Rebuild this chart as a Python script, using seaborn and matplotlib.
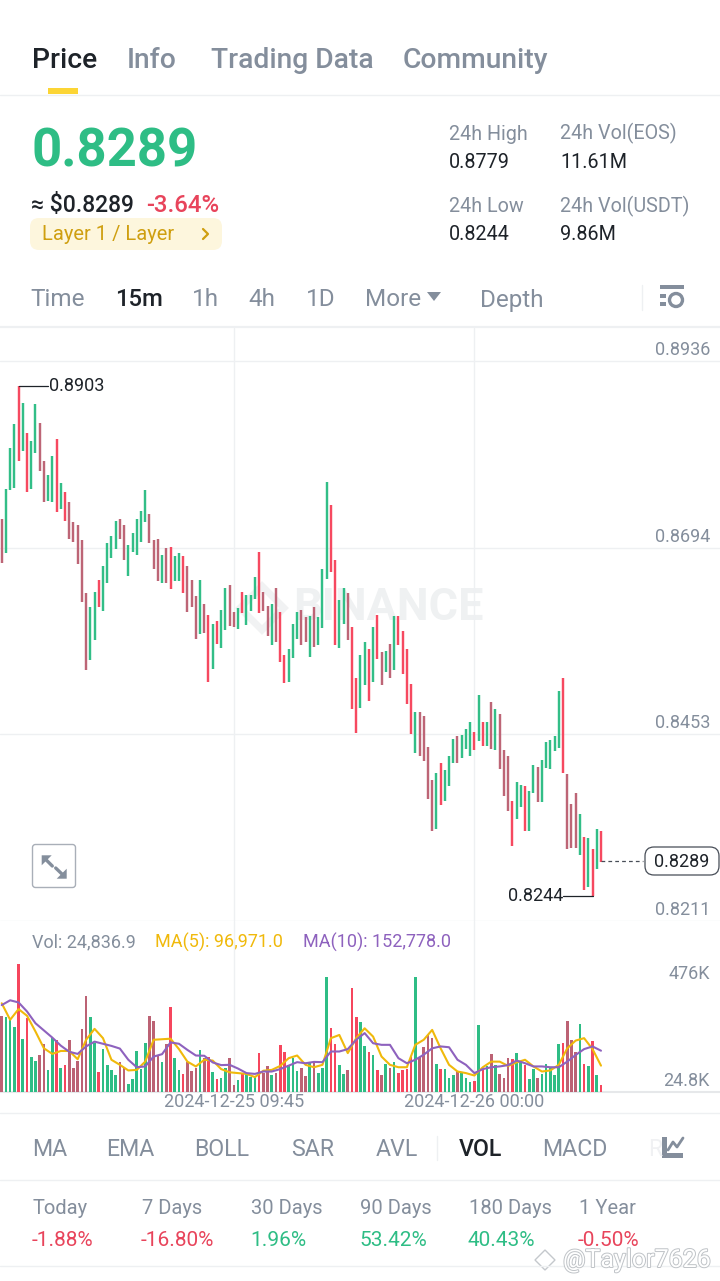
import numpy as np
import pandas as pd
import seaborn as sns
import matplotlib.pyplot as plt
from matplotlib.patches import FancyBboxPatch, Polygon, Rectangle, Circle
import matplotlib.patheffects as pe

# candle highs and lows, in units of 0.0001
price_highs = [
    8732, 8770, 8824, 8854, 8903, 8882, 8843, 8833, 8880, 8856,
    8806, 8789, 8813, 8835, 8778, 8766, 8753, 8728, 8724, 8704,
    8636, 8618, 8637, 8652, 8671, 8700, 8710, 8729, 8732, 8724,
    8698, 8713, 8731, 8742, 8769, 8738, 8704, 8706, 8685, 8694,
    8695, 8684, 8687, 8684, 8670, 8653, 8632, 8653, 8621, 8607,
    8595, 8599, 8613, 8642, 8646, 8611, 8616, 8637, 8633, 8633,
    8656, 8689, 8637, 8619, 8621, 8642, 8611, 8555, 8563, 8596,
    8611, 8614, 8604, 8606, 8617, 8604, 8667, 8779, 8750, 8679,
    8626, 8642, 8635, 8592, 8526, 8556, 8572, 8563, 8592, 8607,
    8559, 8560, 8569, 8606, 8606, 8586, 8563, 8518, 8481, 8481,
    8477, 8436, 8393, 8403, 8415, 8406, 8425, 8447, 8451, 8452,
    8459, 8469, 8456, 8504, 8469, 8469, 8495, 8485, 8479, 8432,
    8425, 8367, 8391, 8387, 8386, 8379, 8413, 8410, 8419, 8443,
    8445, 8450, 8509, 8526, 8401, 8363, 8377, 8349, 8320, 8318,
    8304, 8330, 8327]
price_lows = [
    8675, 8688, 8769, 8771, 8807, 8819, 8766, 8770, 8817, 8793,
    8753, 8755, 8753, 8741, 8744, 8729, 8705, 8702, 8673, 8624,
    8536, 8549, 8575, 8618, 8612, 8649, 8681, 8692, 8705, 8679,
    8658, 8689, 8685, 8702, 8728, 8701, 8667, 8651, 8648, 8649,
    8641, 8651, 8651, 8635, 8611, 8617, 8576, 8582, 8584, 8521,
    8537, 8569, 8564, 8588, 8593, 8591, 8589, 8610, 8594, 8612,
    8628, 8610, 8612, 8580, 8568, 8572, 8546, 8519, 8521, 8552,
    8576, 8568, 8572, 8553, 8566, 8568, 8590, 8654, 8663, 8568,
    8565, 8596, 8575, 8486, 8454, 8487, 8517, 8496, 8520, 8550,
    8516, 8533, 8526, 8536, 8568, 8531, 8492, 8453, 8428, 8425,
    8418, 8369, 8327, 8330, 8361, 8367, 8386, 8415, 8416, 8422,
    8434, 8424, 8432, 8444, 8437, 8437, 8434, 8432, 8408, 8373,
    8353, 8308, 8343, 8358, 8328, 8327, 8377, 8365, 8365, 8409,
    8408, 8431, 8435, 8402, 8304, 8306, 8306, 8296, 8251, 8255,
    8244, 8278, 8287]
# g = up, r = down, m = the muddier down candles
candle_kinds = ("mgggrgrggm" "mggrgrmmmm" "mggrggggmm" "gggggmmmgm" "rggrmmmgmr"
                "grggmmgrgg" "grmmgmrrgg" "gmmgmgggrr" "ggmrrggrgr" "mgmgrrrrgm"
                "mmmgrgggmg" "ggrgrgmgmm" "mrggrggmgg" "gggrmmmgrg" "rgr")
# volumes in thousands
volumes = [
    284, 279, 271, 241, 479, 198, 276, 130, 115, 137,
    179, 81, 200, 194, 89, 101, 195, 90, 116, 236,
    360, 280, 181, 73, 161, 99, 80, 61, 110, 91,
    29, 47, 151, 84, 181, 285, 263, 134, 111, 178,
    317, 125, 79, 65, 112, 77, 88, 154, 125, 129,
    72, 46, 51, 88, 126, 26, 45, 69, 66, 56,
    56, 145, 69, 94, 63, 69, 176, 149, 100, 125,
    78, 89, 59, 111, 111, 70, 90, 430, 240, 180,
    99, 65, 80, 388, 280, 260, 170, 150, 136, 82,
    61, 103, 90, 112, 70, 80, 86, 130, 430, 130,
    167, 211, 199, 105, 86, 85, 50, 61, 77, 70,
    52, 36, 40, 250, 80, 95, 142, 99, 64, 49,
    124, 121, 146, 111, 99, 46, 86, 52, 67, 102,
    92, 62, 177, 182, 264, 192, 149, 252, 105, 97,
    191, 62, 25]
# moving averages read at every second candle
ma5_values = [
    331, 269, 309, 284, 225, 162, 141, 152, 152, 121,
    194, 235, 200, 119, 100, 79, 81, 112, 194, 196,
    198, 159, 112, 94, 119, 116, 84, 72, 69, 66,
    54, 78, 81, 96, 125, 135, 100, 91,
    100, 200, 212, 144, 200, 237, 206, 131, 100, 91,
    91, 175, 194, 231, 162, 100, 75, 69, 60, 91,
    112, 112, 96, 109, 119, 94, 75, 79, 100, 162,
    191, 200, 159, 97]
ma10_values = [
    324, 342, 334, 300, 256, 229, 202, 172, 149, 141,
    169, 187, 179, 171, 161, 119, 91, 94, 131, 140,
    184, 179, 156, 135, 134, 109, 99, 100, 86, 69,
    66, 75, 75, 84, 97, 110, 106, 111,
    110, 150, 150, 159, 194, 219, 181, 175, 175, 125,
    106, 119, 138, 162, 169, 166, 119, 100, 69, 84,
    91, 94, 99, 116, 106, 94, 94, 91, 91, 112,
    137, 159, 169, 153]

price_ticks = [0.8936, 0.8694, 0.8453, 0.8211]
tab_labels = ["Info", "Trading Data", "Community"]
tab_pos = [127, 211, 403]
time_labels = ["Time", "1h", "4h", "1D", "More", "Depth"]
time_pos = [30, 192, 248, 306, 365, 480]
indicator_labels = ["MA", "EMA", "BOLL", "SAR", "AVL", "MACD"]
indicator_pos = [32, 106, 194, 291, 376, 542]
period_labels = ["Today", "7 Days", "30 Days", "90 Days", "180 Days", "1 Year"]
period_values = ["-1.88%", "-16.80%", "1.96%", "53.42%", "40.43%", "-0.50%"]
period_pos = [32, 141, 250, 359, 468, 578]

GREEN = "#2EBD85"
RED = "#F6465D"
MAUVE = "#BC6274"
GREY = "#848E9C"
DARK = "#1E2329"
GRID = "#EEF0F2"
kind_colors = {"g": GREEN, "r": RED, "m": MAUVE}

sns.set_theme(style="white")
plt.rcParams["font.family"] = ["Roboto", "DejaVu Sans"]

candles = pd.DataFrame({"idx": np.arange(len(price_highs)),
                        "high": np.array(price_highs) / 10000,
                        "low": np.array(price_lows) / 10000,
                        "kind": list(candle_kinds),
                        "vol": volumes})
ma_lines = pd.DataFrame({"idx": np.arange(0, 144, 2), "ma5": ma5_values, "ma10": ma10_values})

W, H = 720, 1281
fig = plt.figure(figsize=(W / 100, H / 100), dpi=100)

# page axes in pixels for everything around the chart
page = fig.add_axes([0, 0, 1, 1], zorder=0)
page.set_xlim(0, W)
page.set_ylim(H, 0)
page.axis("off")


def label(x, y, s, size, color=GREY, ha="left", weight="normal", **kw):
    # Roboto sits about 2px high when centred
    page.text(x, y + 2, s, fontsize=size, color=color, ha=ha, va="center", fontweight=weight, **kw)


def diamond(cx, cy, r, color, lw=0):
    page.add_patch(Polygon([(cx - r, cy), (cx, cy - r), (cx + r, cy), (cx, cy + r)], closed=True,
                           fc="none" if lw else color, ec=color if lw else "none", lw=lw))


# separators
for y, lw in [(95, 1.0), (327, 1.6), (1113, 1.0), (1180, 1.0), (1266, 1.0)]:
    page.axhline(y, color=GRID, lw=lw)

# top tabs
label(32, 58, "Price", 20.3, DARK, weight="medium")
for x, s in zip(tab_pos, tab_labels):
    label(x, 58, s, 20.3, GREY, weight="medium")
page.add_patch(Rectangle((48, 88), 30, 6, fc="#FCD535", ec="none"))

# headline price
label(31, 150, "0.8289", 38, GREEN, weight="bold")
label(31, 203, "≈ $0.8289", 16.5, DARK, weight="medium")
label(146, 203, "-3.64%", 17.3, "#E8445B", weight="medium")
page.add_patch(FancyBboxPatch((30, 218), 192, 32, boxstyle="round,pad=0,rounding_size=9",
                              fc="#FDF6DD", ec="none"))
label(42, 233, "Layer 1 / Layer", 14.5, "#CF9F10")
page.plot([203, 208, 203], [229, 234, 239], color="#CF9F10", lw=1.6)

# 24h block
for x, y, s, c in [(449, 133, "24h High", GREY), (449, 161, "0.8779", DARK),
                   (560, 131, "24h Vol(EOS)", GREY), (560, 160, "11.61M", DARK),
                   (449, 205, "24h Low", GREY), (449, 233, "0.8244", DARK),
                   (560, 204, "24h Vol(USDT)", GREY), (560, 232, "9.86M", DARK)]:
    label(x, y, s, 14.2, c)

# interval row
for x, s in zip(time_pos, time_labels):
    label(x, 298, s, 17.5)
label(115, 298, "15m", 17.2, DARK, weight="medium")
page.add_patch(Polygon([(427, 292), (441, 292), (434, 301)], closed=True, fc=GREY, ec="none"))
page.plot([642, 642], [285, 310], color=GRID, lw=1)
page.add_patch(Rectangle((660, 285), 24, 3.5, fc=GREY, ec="none"))
page.add_patch(Rectangle((660, 294), 6, 3.5, fc=GREY, ec="none"))
page.add_patch(Rectangle((660, 302), 6, 3.5, fc=GREY, ec="none"))
page.add_patch(Circle((676, 300), 6.5, fc="white", ec=GREY, lw=2.4))

# pale watermark behind the candles
diamond(262, 608, 22, "#F1F2F3", lw=5)
label(293, 606, "BINANCE", 32.4, "#EFF1F2", weight="bold")

# price area
ax = fig.add_axes([0, 1 - 921 / H, 1, (921 - 328) / H], zorder=1)
ax.patch.set_visible(False)
px_per_price = 560 / (0.8936 - 0.8211)
ax.set_ylim(0.8211, 0.8936 + 33 / px_per_price)
x_lim = (-0.403, 170.2)
ax.set_xlim(x_lim)
for tick in price_ticks:
    ax.axhline(tick, color=GRID, lw=1, zorder=0)
for v in (55.0, 111.9):
    ax.axvline(v, color=GRID, lw=1, zorder=0)
for kind, group in candles.groupby("kind"):
    ax.vlines(group["idx"], group["low"], group["high"], color=kind_colors[kind], lw=2.6, alpha=0.25)
    ax.vlines(group["idx"], group["low"], group["high"], color=kind_colors[kind], lw=1.4)
ax.plot([4, 11], [0.8903, 0.8903], color=DARK, lw=0.9)
ax.plot([133, 140], [0.8244, 0.8244], color=DARK, lw=0.9)
ax.plot([142, 152], [0.8289, 0.8289], color="#474D57", lw=0.9, ls=(0, (3, 2.5)))
ax.axis("off")

# annotations and scale labels
label(49, 384, "0.8903", 13, DARK)
label(563, 894, "0.8244", 13, DARK, ha="right")
for y, tick in zip([348, 535, 721, 908], price_ticks):
    label(710, y, f"{tick:.4f}", 13, GREY, ha="right")
page.add_patch(FancyBboxPatch((645, 847), 74, 28, boxstyle="round,pad=0,rounding_size=9",
                              fc="white", ec="#474D57", lw=0.9))
label(682, 860, "0.8289", 13, DARK, ha="center")

# expand button
page.add_patch(FancyBboxPatch((32.5, 844.5), 43, 43, boxstyle="round,pad=0,rounding_size=3",
                              fc="white", ec="#A9AFB8", lw=1))
page.add_patch(Polygon([(41.7, 855.3), (51.7, 855.3), (41.7, 865.3)], closed=True, fc=GREY, ec="none"))
page.add_patch(Polygon([(66.7, 878.7), (56.7, 878.7), (66.7, 868.7)], closed=True, fc=GREY, ec="none"))
page.plot([45, 52.3], [858.7, 866], color=GREY, lw=2.4)
page.plot([63.3, 55.7], [875.3, 868], color=GREY, lw=2.4)

# volume area
vol = fig.add_axes([0, 1 - 1091.5 / H, 1, (1091.5 - 921) / H], zorder=1)
vol.patch.set_visible(False)
sns.barplot(data=candles, x="idx", y="vol", hue="kind", palette=kind_colors, native_scale=True,
            dodge=False, width=0.62, saturation=1, linewidth=0, legend=False, ax=vol, zorder=2)
sns.lineplot(data=ma_lines, x="idx", y="ma5", color="#F0B90B", lw=1.5, ax=vol, zorder=3)
sns.lineplot(data=ma_lines, x="idx", y="ma10", color="#8E62BE", lw=1.5, ax=vol, zorder=4)
vol.set_xlim(x_lim)
vol.set_ylim(0, 170.5 * 3.75)
for v in (55.0, 111.9):
    vol.axvline(v, color=GRID, lw=1, zorder=0)
vol.axis("off")
page.axhline(1091.8, color="#E6E8EA", lw=1.5)

label(32, 940, "Vol: 24,836.9", 13, GREY)
label(155, 940, "MA(5): 96,971.0", 13, "#F0B90B")
label(303, 940, "MA(10): 152,778.0", 13, "#8E62BE")
label(710, 972, "476K", 13, GREY, ha="right")
label(710, 1079, "24.8K", 13, GREY, ha="right")
label(234, 1100, "2024-12-25 09:45", 13, GREY, ha="center")
label(474, 1100, "2024-12-26 00:00", 13, GREY, ha="center")

# indicator row
for x, s in zip(indicator_pos, indicator_labels):
    label(x, 1147, s, 16.7)
label(459, 1147, "VOL", 16.7, DARK, weight="medium")
page.plot([437, 437], [1136, 1160], color=GRID, lw=1)
label(648, 1147, "R", 16.7, "#F0F1F3")
page.add_patch(Rectangle((654, 1132), 8, 32, fc="white", ec="none"))
page.add_patch(Polygon([(662, 1158), (683, 1158), (683, 1153), (667, 1153), (667, 1137), (662, 1137)],
                       closed=True, fc=GREY, ec="none"))
page.plot([668, 673, 677, 683], [1150, 1142, 1147, 1138], color=GREY, lw=2)

# period performance
for x, s, v in zip(period_pos, period_labels, period_values):
    label(x + 1, 1206, s, 14.5, GREY)
    label(x, 1238, v, 15, "#E8445B" if v.startswith("-") else GREEN)

# corner watermark
diamond(545, 1260, 10, "#C4C8CC", lw=1)
label(563, 1258, "@Taylor7626", 18, "white",
      path_effects=[pe.withStroke(linewidth=1.4, foreground="#BFC3C7")])

fig.savefig("out.png", dpi=100)
